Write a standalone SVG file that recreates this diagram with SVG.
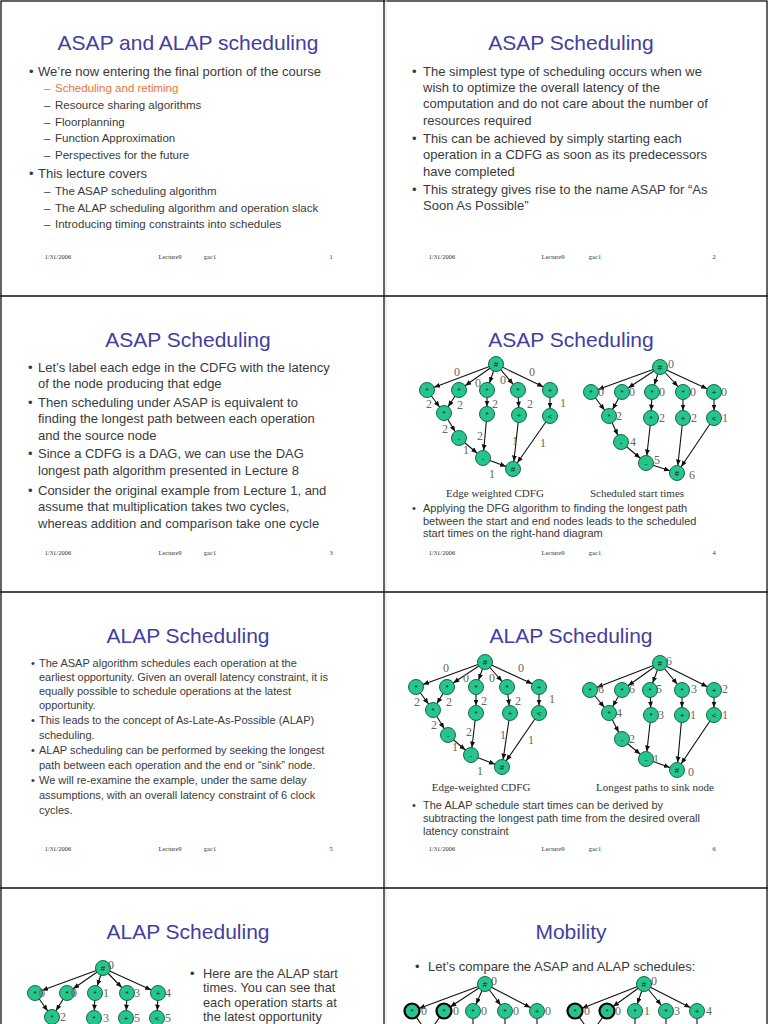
<svg xmlns="http://www.w3.org/2000/svg" width="768" height="1024" viewBox="0 0 768 1024">
<style>
.bg{fill:#fff}
.frame{stroke:#111;stroke-width:1.3;fill:none}
.t{font-family:"Liberation Sans",Arial,sans-serif;font-size:21px;fill:#42409E;text-anchor:middle}
.b{font-family:"Liberation Sans",Arial,sans-serif;font-size:13px;fill:#3a3a3a}
.s{font-family:"Liberation Sans",Arial,sans-serif;font-size:11.5px;fill:#3a3a3a}
.o{fill:#E8763C}
.m{font-family:"Liberation Sans",Arial,sans-serif;font-size:11px;fill:#3a3a3a}
.f{font-family:"Liberation Serif","Times New Roman",serif;font-size:6.5px;fill:#333;text-anchor:middle}
.cap{font-family:"Liberation Serif","Times New Roman",serif;font-size:11px;fill:#333;text-anchor:middle}
.lab{font-family:"Liberation Serif","Times New Roman",serif;font-size:12px;fill:#666;text-anchor:middle}
.n{fill:#27C48C;stroke:#0F6B48;stroke-width:1}
.hl{fill:#27C48C;stroke:#000;stroke-width:2.2}
.nt{font-family:"Liberation Sans",Arial,sans-serif;font-size:8px;fill:#1a1a1a;text-anchor:middle}
.e{stroke:#111;stroke-width:1.1;fill:none;marker-end:url(#ah)}
.e2{stroke:#111;stroke-width:1.1;fill:none}
.b7{font-family:"Liberation Sans",Arial,sans-serif;font-size:12.8px;fill:#3a3a3a}
</style>
<defs>
<marker id="ah" markerUnits="userSpaceOnUse" markerWidth="20" markerHeight="10" refX="13.5" refY="2.5" orient="auto">
<path d="M0,0 L6,2.5 L0,5 z" fill="#111"/>
</marker>
</defs>
<rect class="bg" x="0" y="0" width="768" height="1024"/>
<g id="frames">
<rect class="frame" x="1" y="1" width="766" height="1030"/>
<line class="frame" x1="384" y1="0" x2="384" y2="1024"/>
<line x1="386" y1="0" x2="386" y2="1024" stroke="#ddd" stroke-width="1"/>
<line class="frame" x1="0" y1="296" x2="768" y2="296"/>
<line class="frame" x1="0" y1="592" x2="768" y2="592"/>
<line class="frame" x1="0" y1="888" x2="768" y2="888"/>
</g>

<!-- Slide 1 -->
<g id="slide1">
<text class="t" x="188" y="50">ASAP and ALAP scheduling</text>
<text class="b" x="29" y="75.5">•</text><text class="b" x="38" y="75.5">We’re now entering the final portion of the course</text>
<text class="s o" x="44" y="92">–</text><text class="s o" x="55" y="92">Scheduling and retiming</text>
<text class="s" x="44" y="109">–</text><text class="s" x="55" y="109">Resource sharing algorithms</text>
<text class="s" x="44" y="125.5">–</text><text class="s" x="55" y="125.5">Floorplanning</text>
<text class="s" x="44" y="142">–</text><text class="s" x="55" y="142">Function Approximation</text>
<text class="s" x="44" y="159">–</text><text class="s" x="55" y="159">Perspectives for the future</text>
<text class="b" x="29" y="178">•</text><text class="b" x="38" y="178">This lecture covers</text>
<text class="s" x="44" y="194.5">–</text><text class="s" x="55" y="194.5">The ASAP scheduling algorithm</text>
<text class="s" x="44" y="211.5">–</text><text class="s" x="55" y="211.5">The ALAP scheduling algorithm and operation slack</text>
<text class="s" x="44" y="228">–</text><text class="s" x="55" y="228">Introducing timing constraints into schedules</text>
<text class="f" x="58" y="259">1/31/2006</text><text class="f" x="170" y="259">Lecture9</text><text class="f" x="210" y="259">gac1</text><text class="f" x="331" y="259">1</text>
</g>

<!-- Slide 2 -->
<g id="slide2">
<text class="t" x="571" y="50">ASAP Scheduling</text>
<text class="b" x="412" y="75.5">•</text><text class="b" x="423" y="75.5">The simplest type of scheduling occurs when we</text>
<text class="b" x="423" y="91.5">wish to optimize the overall latency of the</text>
<text class="b" x="423" y="107.5">computation and do not care about the number of</text>
<text class="b" x="423" y="124.5">resources required</text>
<text class="b" x="412" y="142.5">•</text><text class="b" x="423" y="142.5">This can be achieved by simply starting each</text>
<text class="b" x="423" y="158.5">operation in a CDFG as soon as its predecessors</text>
<text class="b" x="423" y="175.5">have completed</text>
<text class="b" x="412" y="193.5">•</text><text class="b" x="423" y="193.5">This strategy gives rise to the name ASAP for “As</text>
<text class="b" x="423" y="209.5">Soon As Possible”</text>
<text class="f" x="442" y="259">1/31/2006</text><text class="f" x="553" y="259">Lecture9</text><text class="f" x="595" y="259">gac1</text><text class="f" x="714" y="259">2</text>
</g>

<!-- Slide 3 -->
<g id="slide3">
<text class="t" x="188" y="347">ASAP Scheduling</text>
<text class="b" x="28" y="371.5">•</text><text class="b" x="38" y="371.5">Let’s label each edge in the CDFG with the latency</text>
<text class="b" x="38" y="387.5">of the node producing that edge</text>
<text class="b" x="28" y="406.5">•</text><text class="b" x="38" y="406.5">Then scheduling under ASAP is equivalent to</text>
<text class="b" x="38" y="422.5">finding the longest path between each operation</text>
<text class="b" x="38" y="439.5">and the source node</text>
<text class="b" x="28" y="457.5">•</text><text class="b" x="38" y="457.5">Since a CDFG is a DAG, we can use the DAG</text>
<text class="b" x="38" y="474.5">longest path algorithm presented in Lecture 8</text>
<text class="b" x="28" y="494.5">•</text><text class="b" x="38" y="494.5">Consider the original example from Lecture 1, and</text>
<text class="b" x="38" y="510.5">assume that multiplication takes two cycles,</text>
<text class="b" x="38" y="527.5">whereas addition and comparison take one cycle</text>
<text class="f" x="58" y="555">1/31/2006</text><text class="f" x="170" y="555">Lecture9</text><text class="f" x="210" y="555">gac1</text><text class="f" x="331" y="555">3</text>
</g>

<!-- Slide 4 -->
<g id="slide4">
<text class="t" x="571" y="347">ASAP Scheduling</text>
<text class="cap" x="495" y="497">Edge weighted CDFG</text>
<text class="cap" x="637" y="497">Scheduled start times</text>
<text class="m" x="412" y="512">•</text><text class="m" x="423" y="512">Applying the DFG algorithm to finding the longest path</text>
<text class="m" x="423" y="525">between the start and end nodes leads to the scheduled</text>
<text class="m" x="423" y="537">start times on the right-hand diagram</text>
<text class="f" x="442" y="555">1/31/2006</text><text class="f" x="553" y="555">Lecture9</text><text class="f" x="595" y="555">gac1</text><text class="f" x="714" y="555">4</text>
</g>

<!-- Slide 5 -->
<g id="slide5">
<text class="t" x="188" y="643">ALAP Scheduling</text>
<text class="m" x="31" y="667">•</text><text class="m" x="39" y="667">The ASAP algorithm schedules each operation at the</text>
<text class="m" x="39" y="681">earliest opportunity. Given an overall latency constraint, it is</text>
<text class="m" x="39" y="695">equally possible to schedule operations at the latest</text>
<text class="m" x="39" y="709">opportunity.</text>
<text class="m" x="31" y="724">•</text><text class="m" x="39" y="724">This leads to the concept of As-Late-As-Possible (ALAP)</text>
<text class="m" x="39" y="739">scheduling.</text>
<text class="m" x="31" y="754">•</text><text class="m" x="39" y="754">ALAP scheduling can be performed by seeking the longest</text>
<text class="m" x="39" y="769">path between each operation and the end or “sink” node.</text>
<text class="m" x="31" y="784">•</text><text class="m" x="39" y="784">We will re-examine the example, under the same delay</text>
<text class="m" x="39" y="799">assumptions, with an overall latency constraint of 6 clock</text>
<text class="m" x="39" y="814">cycles.</text>
<text class="f" x="58" y="851">1/31/2006</text><text class="f" x="170" y="851">Lecture9</text><text class="f" x="210" y="851">gac1</text><text class="f" x="331" y="851">5</text>
</g>

<!-- Slide 6 -->
<g id="slide6">
<text class="t" x="571" y="643">ALAP Scheduling</text>
<text class="cap" x="481" y="791">Edge-weighted CDFG</text>
<text class="cap" x="655" y="791">Longest paths to sink node</text>
<text class="m" x="412" y="809">•</text><text class="m" x="423" y="809">The ALAP schedule start times can be derived by</text>
<text class="m" x="423" y="822">subtracting the longest path time from the desired overall</text>
<text class="m" x="423" y="835">latency constraint</text>
<text class="f" x="442" y="851">1/31/2006</text><text class="f" x="553" y="851">Lecture9</text><text class="f" x="595" y="851">gac1</text><text class="f" x="714" y="851">6</text>
</g>

<!-- Slide 7 -->
<g id="slide7">
<text class="t" x="188" y="939">ALAP Scheduling</text>
<text class="b7" x="190" y="977.5">•</text>
<text class="b7" x="203" y="977.5">Here are the ALAP start</text>
<text class="b7" x="203" y="992">times. You can see that</text>
<text class="b7" x="203" y="1006.5">each operation starts at</text>
<text class="b7" x="203" y="1020.5">the latest opportunity</text>
</g>

<!-- Slide 8 -->
<g id="slide8">
<text class="t" x="571" y="939">Mobility</text>
<text class="b" x="415" y="970.5">•</text><text class="b" x="428" y="970.5">Let’s compare the ASAP and ALAP schedules:</text>
</g>

<!-- Connectors -->
<g id="connectors">
<!-- Graph A -->
<line class="e" x1="496" y1="364" x2="427" y2="390"/>
<line class="e" x1="496" y1="364" x2="459" y2="390"/>
<line class="e" x1="496" y1="364" x2="487" y2="390"/>
<line class="e" x1="496" y1="364" x2="518" y2="390"/>
<line class="e" x1="496" y1="364" x2="550" y2="390"/>
<line class="e" x1="427" y1="390" x2="444" y2="413"/>
<line class="e" x1="459" y1="390" x2="444" y2="413"/>
<line class="e" x1="444" y1="413" x2="459" y2="438"/>
<line class="e" x1="459" y1="438" x2="483" y2="458"/>
<line class="e" x1="487" y1="390" x2="487" y2="414"/>
<line class="e" x1="487" y1="414" x2="483" y2="458"/>
<line class="e" x1="518" y1="390" x2="519" y2="415"/>
<line class="e" x1="519" y1="415" x2="513" y2="469"/>
<line class="e" x1="550" y1="390" x2="550" y2="416"/>
<line class="e" x1="550" y1="416" x2="513" y2="469"/>
<line class="e" x1="483" y1="458" x2="513" y2="469"/>
<!-- Graph B -->
<line class="e" x1="660" y1="367" x2="591" y2="392"/>
<line class="e" x1="660" y1="367" x2="622" y2="392"/>
<line class="e" x1="660" y1="367" x2="652" y2="392"/>
<line class="e" x1="660" y1="367" x2="683" y2="392"/>
<line class="e" x1="660" y1="367" x2="714" y2="392"/>
<line class="e" x1="591" y1="392" x2="609" y2="416"/>
<line class="e" x1="622" y1="392" x2="609" y2="416"/>
<line class="e" x1="609" y1="416" x2="621" y2="442"/>
<line class="e" x1="621" y1="442" x2="646" y2="463"/>
<line class="e" x1="652" y1="392" x2="651" y2="418"/>
<line class="e" x1="651" y1="418" x2="646" y2="463"/>
<line class="e" x1="683" y1="392" x2="683" y2="418"/>
<line class="e" x1="683" y1="418" x2="677" y2="473"/>
<line class="e" x1="714" y1="392" x2="714" y2="418"/>
<line class="e" x1="714" y1="418" x2="677" y2="473"/>
<line class="e" x1="646" y1="463" x2="677" y2="473"/>
<!-- Graph C -->
<line class="e" x1="485" y1="662" x2="416" y2="687"/>
<line class="e" x1="485" y1="662" x2="447" y2="687"/>
<line class="e" x1="485" y1="662" x2="476" y2="687"/>
<line class="e" x1="485" y1="662" x2="507" y2="687"/>
<line class="e" x1="485" y1="662" x2="539" y2="687"/>
<line class="e" x1="416" y1="687" x2="433" y2="710"/>
<line class="e" x1="447" y1="687" x2="433" y2="710"/>
<line class="e" x1="433" y1="710" x2="448" y2="735"/>
<line class="e" x1="448" y1="735" x2="471" y2="755"/>
<line class="e" x1="476" y1="687" x2="476" y2="713"/>
<line class="e" x1="476" y1="713" x2="471" y2="755"/>
<line class="e" x1="507" y1="687" x2="510" y2="713"/>
<line class="e" x1="510" y1="713" x2="502" y2="767"/>
<line class="e" x1="539" y1="687" x2="539" y2="713"/>
<line class="e" x1="539" y1="713" x2="502" y2="767"/>
<line class="e" x1="471" y1="755" x2="502" y2="767"/>
<!-- Graph D -->
<line class="e" x1="660" y1="663" x2="590" y2="690"/>
<line class="e" x1="660" y1="663" x2="622" y2="690"/>
<line class="e" x1="660" y1="663" x2="650" y2="690"/>
<line class="e" x1="660" y1="663" x2="682" y2="690"/>
<line class="e" x1="660" y1="663" x2="714" y2="690"/>
<line class="e" x1="590" y1="690" x2="609" y2="713"/>
<line class="e" x1="622" y1="690" x2="609" y2="713"/>
<line class="e" x1="609" y1="713" x2="622" y2="739"/>
<line class="e" x1="622" y1="739" x2="646" y2="759"/>
<line class="e" x1="650" y1="690" x2="651" y2="715"/>
<line class="e" x1="651" y1="715" x2="646" y2="759"/>
<line class="e" x1="682" y1="690" x2="682" y2="715"/>
<line class="e" x1="682" y1="715" x2="677" y2="770"/>
<line class="e" x1="714" y1="690" x2="714" y2="715"/>
<line class="e" x1="714" y1="715" x2="677" y2="770"/>
<line class="e" x1="646" y1="759" x2="677" y2="770"/>
<!-- Graph E -->
<line class="e" x1="103" y1="968" x2="35" y2="993"/>
<line class="e" x1="103" y1="968" x2="67" y2="993"/>
<line class="e" x1="103" y1="968" x2="95" y2="993"/>
<line class="e" x1="103" y1="968" x2="127" y2="993"/>
<line class="e" x1="103" y1="968" x2="158" y2="993"/>
<line class="e" x1="35" y1="993" x2="52" y2="1017"/>
<line class="e" x1="67" y1="993" x2="52" y2="1017"/>
<line class="e" x1="95" y1="993" x2="94" y2="1018"/>
<line class="e" x1="127" y1="993" x2="126" y2="1018"/>
<line class="e" x1="158" y1="993" x2="157" y2="1018"/>
<!-- Graph F left -->
<line class="e" x1="485" y1="984" x2="412" y2="1011"/>
<line class="e" x1="485" y1="984" x2="444" y2="1011"/>
<line class="e" x1="485" y1="984" x2="473" y2="1011"/>
<line class="e" x1="485" y1="984" x2="505" y2="1011"/>
<line class="e" x1="485" y1="984" x2="537" y2="1011"/>
<line class="e2" x1="412" y1="1011" x2="428" y2="1034"/>
<line class="e2" x1="444" y1="1011" x2="428" y2="1034"/>
<line class="e2" x1="473" y1="1011" x2="473" y2="1030"/>
<line class="e2" x1="505" y1="1011" x2="505" y2="1030"/>
<line class="e2" x1="537" y1="1011" x2="537" y2="1030"/>
<!-- Graph F right -->
<line class="e" x1="644" y1="984" x2="575" y2="1011"/>
<line class="e" x1="644" y1="984" x2="607" y2="1011"/>
<line class="e" x1="644" y1="984" x2="635" y2="1011"/>
<line class="e" x1="644" y1="984" x2="666" y2="1011"/>
<line class="e" x1="644" y1="984" x2="697" y2="1011"/>
<line class="e2" x1="575" y1="1011" x2="591" y2="1034"/>
<line class="e2" x1="607" y1="1011" x2="591" y2="1034"/>
<line class="e2" x1="635" y1="1011" x2="635" y2="1030"/>
<line class="e2" x1="666" y1="1011" x2="666" y2="1030"/>
<line class="e2" x1="697" y1="1011" x2="697" y2="1030"/>
</g>

<!-- Edge labels -->
<g id="edge-labels">
<text class="lab" x="457" y="376">0</text><text class="lab" x="478" y="387">0</text><text class="lab" x="503" y="384">0</text><text class="lab" x="532" y="376">0</text>
<text class="lab" x="429" y="408">2</text><text class="lab" x="460" y="409">2</text><text class="lab" x="495" y="408">2</text><text class="lab" x="530" y="408">2</text><text class="lab" x="563" y="407">1</text>
<text class="lab" x="445" y="433">2</text><text class="lab" x="480" y="440">2</text><text class="lab" x="515" y="445">1</text><text class="lab" x="543" y="447">1</text>
<text class="lab" x="466" y="454">1</text><text class="lab" x="492" y="478">1</text>

<text class="lab" x="446" y="672">0</text><text class="lab" x="466" y="682">0</text><text class="lab" x="492" y="682">0</text><text class="lab" x="521" y="672">0</text>
<text class="lab" x="417" y="706">2</text><text class="lab" x="449" y="706">2</text><text class="lab" x="484" y="705">2</text><text class="lab" x="518" y="705">2</text><text class="lab" x="552" y="703">1</text>
<text class="lab" x="434" y="729">2</text><text class="lab" x="469" y="736">2</text><text class="lab" x="503" y="739">1</text><text class="lab" x="531" y="744">1</text>
<text class="lab" x="455" y="751">1</text><text class="lab" x="480" y="775">1</text>
</g>

<!-- Nodes: Graph A -->
<g id="gA-n0"><circle class="n" cx="496" cy="364" r="7.5"/><text class="nt" x="496" y="367">#</text></g>
<g id="gA-n1"><circle class="n" cx="427" cy="390" r="7.5"/><text class="nt" x="427" y="393">*</text></g>
<g id="gA-n2"><circle class="n" cx="459" cy="390" r="7.5"/><text class="nt" x="459" y="393">*</text></g>
<g id="gA-n3"><circle class="n" cx="487" cy="390" r="7.5"/><text class="nt" x="487" y="393">*</text></g>
<g id="gA-n4"><circle class="n" cx="518" cy="390" r="7.5"/><text class="nt" x="518" y="393">*</text></g>
<g id="gA-n5"><circle class="n" cx="550" cy="390" r="7.5"/><text class="nt" x="550" y="393">+</text></g>
<g id="gA-n6"><circle class="n" cx="444" cy="413" r="7.5"/><text class="nt" x="444" y="416">*</text></g>
<g id="gA-n7"><circle class="n" cx="487" cy="414" r="7.5"/><text class="nt" x="487" y="417">*</text></g>
<g id="gA-n8"><circle class="n" cx="519" cy="415" r="7.5"/><text class="nt" x="519" y="418">+</text></g>
<g id="gA-n9"><circle class="n" cx="550" cy="416" r="7.5"/><text class="nt" x="550" y="419">&lt;</text></g>
<g id="gA-n10"><circle class="n" cx="459" cy="438" r="7.5"/><text class="nt" x="459" y="441">-</text></g>
<g id="gA-n11"><circle class="n" cx="483" cy="458" r="7.5"/><text class="nt" x="483" y="461">-</text></g>
<g id="gA-n12"><circle class="n" cx="513" cy="469" r="7.5"/><text class="nt" x="513" y="472">#</text></g>

<!-- Nodes: Graph B -->
<g id="gB-n0"><circle class="n" cx="660" cy="367" r="7.5"/><text class="nt" x="660" y="370">#</text><text class="lab" x="671" y="368">0</text></g>
<g id="gB-n1"><circle class="n" cx="591" cy="392" r="7.5"/><text class="nt" x="591" y="395">*</text><text class="lab" x="601" y="396">0</text></g>
<g id="gB-n2"><circle class="n" cx="622" cy="392" r="7.5"/><text class="nt" x="622" y="395">*</text><text class="lab" x="632" y="396">0</text></g>
<g id="gB-n3"><circle class="n" cx="652" cy="392" r="7.5"/><text class="nt" x="652" y="395">*</text><text class="lab" x="662" y="396">0</text></g>
<g id="gB-n4"><circle class="n" cx="683" cy="392" r="7.5"/><text class="nt" x="683" y="395">*</text><text class="lab" x="693" y="396">0</text></g>
<g id="gB-n5"><circle class="n" cx="714" cy="392" r="7.5"/><text class="nt" x="714" y="395">+</text><text class="lab" x="724" y="396">0</text></g>
<g id="gB-n6"><circle class="n" cx="609" cy="416" r="7.5"/><text class="nt" x="609" y="419">*</text><text class="lab" x="619" y="420">2</text></g>
<g id="gB-n7"><circle class="n" cx="651" cy="418" r="7.5"/><text class="nt" x="651" y="421">*</text><text class="lab" x="662" y="422">2</text></g>
<g id="gB-n8"><circle class="n" cx="683" cy="418" r="7.5"/><text class="nt" x="683" y="421">+</text><text class="lab" x="694" y="422">2</text></g>
<g id="gB-n9"><circle class="n" cx="714" cy="418" r="7.5"/><text class="nt" x="714" y="421">&lt;</text><text class="lab" x="725" y="422">1</text></g>
<g id="gB-n10"><circle class="n" cx="621" cy="442" r="7.5"/><text class="nt" x="621" y="445">-</text><text class="lab" x="633" y="446">4</text></g>
<g id="gB-n11"><circle class="n" cx="646" cy="463" r="7.5"/><text class="nt" x="646" y="466">-</text><text class="lab" x="657" y="464">5</text></g>
<g id="gB-n12"><circle class="n" cx="677" cy="473" r="7.5"/><text class="nt" x="677" y="476">#</text><text class="lab" x="692" y="479">6</text></g>

<!-- Nodes: Graph C -->
<g id="gC-n0"><circle class="n" cx="485" cy="662" r="7.5"/><text class="nt" x="485" y="665">#</text></g>
<g id="gC-n1"><circle class="n" cx="416" cy="687" r="7.5"/><text class="nt" x="416" y="690">*</text></g>
<g id="gC-n2"><circle class="n" cx="447" cy="687" r="7.5"/><text class="nt" x="447" y="690">*</text></g>
<g id="gC-n3"><circle class="n" cx="476" cy="687" r="7.5"/><text class="nt" x="476" y="690">*</text></g>
<g id="gC-n4"><circle class="n" cx="507" cy="687" r="7.5"/><text class="nt" x="507" y="690">*</text></g>
<g id="gC-n5"><circle class="n" cx="539" cy="687" r="7.5"/><text class="nt" x="539" y="690">+</text></g>
<g id="gC-n6"><circle class="n" cx="433" cy="710" r="7.5"/><text class="nt" x="433" y="713">*</text></g>
<g id="gC-n7"><circle class="n" cx="476" cy="713" r="7.5"/><text class="nt" x="476" y="716">*</text></g>
<g id="gC-n8"><circle class="n" cx="510" cy="713" r="7.5"/><text class="nt" x="510" y="716">+</text></g>
<g id="gC-n9"><circle class="n" cx="539" cy="713" r="7.5"/><text class="nt" x="539" y="716">&lt;</text></g>
<g id="gC-n10"><circle class="n" cx="448" cy="735" r="7.5"/><text class="nt" x="448" y="738">-</text></g>
<g id="gC-n11"><circle class="n" cx="471" cy="755" r="7.5"/><text class="nt" x="471" y="758">-</text></g>
<g id="gC-n12"><circle class="n" cx="502" cy="767" r="7.5"/><text class="nt" x="502" y="770">#</text></g>

<!-- Nodes: Graph D -->
<g id="gD-n0"><circle class="n" cx="660" cy="663" r="7.5"/><text class="nt" x="660" y="666">#</text><text class="lab" x="669" y="665">6</text></g>
<g id="gD-n1"><circle class="n" cx="590" cy="690" r="7.5"/><text class="nt" x="590" y="693">*</text><text class="lab" x="601" y="693">6</text></g>
<g id="gD-n2"><circle class="n" cx="622" cy="690" r="7.5"/><text class="nt" x="622" y="693">*</text><text class="lab" x="632" y="693">6</text></g>
<g id="gD-n3"><circle class="n" cx="650" cy="690" r="7.5"/><text class="nt" x="650" y="693">*</text><text class="lab" x="659" y="693">5</text></g>
<g id="gD-n4"><circle class="n" cx="682" cy="690" r="7.5"/><text class="nt" x="682" y="693">*</text><text class="lab" x="694" y="693">3</text></g>
<g id="gD-n5"><circle class="n" cx="714" cy="690" r="7.5"/><text class="nt" x="714" y="693">+</text><text class="lab" x="725" y="693">2</text></g>
<g id="gD-n6"><circle class="n" cx="609" cy="713" r="7.5"/><text class="nt" x="609" y="716">*</text><text class="lab" x="619" y="717">4</text></g>
<g id="gD-n7"><circle class="n" cx="651" cy="715" r="7.5"/><text class="nt" x="651" y="718">*</text><text class="lab" x="661" y="719">3</text></g>
<g id="gD-n8"><circle class="n" cx="682" cy="715" r="7.5"/><text class="nt" x="682" y="718">+</text><text class="lab" x="693" y="719">1</text></g>
<g id="gD-n9"><circle class="n" cx="714" cy="715" r="7.5"/><text class="nt" x="714" y="718">&lt;</text><text class="lab" x="725" y="719">1</text></g>
<g id="gD-n10"><circle class="n" cx="622" cy="739" r="7.5"/><text class="nt" x="622" y="742">-</text><text class="lab" x="632" y="743">2</text></g>
<g id="gD-n11"><circle class="n" cx="646" cy="759" r="7.5"/><text class="nt" x="646" y="762">-</text><text class="lab" x="656" y="763">1</text></g>
<g id="gD-n12"><circle class="n" cx="677" cy="770" r="7.5"/><text class="nt" x="677" y="773">#</text><text class="lab" x="691" y="776">0</text></g>

<!-- Nodes: Graph E (slide 7) -->
<g id="gE-n0"><circle class="n" cx="103" cy="968" r="7.5"/><text class="nt" x="103" y="971">#</text><text class="lab" x="111" y="969">0</text></g>
<g id="gE-n1"><circle class="n" cx="35" cy="993" r="7.5"/><text class="nt" x="35" y="996">*</text><text class="lab" x="42" y="997">0</text></g>
<g id="gE-n2"><circle class="n" cx="67" cy="993" r="7.5"/><text class="nt" x="67" y="996">*</text><text class="lab" x="74" y="997">0</text></g>
<g id="gE-n3"><circle class="n" cx="95" cy="993" r="7.5"/><text class="nt" x="95" y="996">*</text><text class="lab" x="106" y="997">1</text></g>
<g id="gE-n4"><circle class="n" cx="127" cy="993" r="7.5"/><text class="nt" x="127" y="996">*</text><text class="lab" x="137" y="997">3</text></g>
<g id="gE-n5"><circle class="n" cx="158" cy="993" r="7.5"/><text class="nt" x="158" y="996">+</text><text class="lab" x="168" y="997">4</text></g>
<g id="gE-n6"><circle class="n" cx="52" cy="1017" r="7.5"/><text class="nt" x="52" y="1020">*</text><text class="lab" x="63" y="1021">2</text></g>
<g id="gE-n7"><circle class="n" cx="94" cy="1018" r="7.5"/><text class="nt" x="94" y="1021">*</text><text class="lab" x="106" y="1022">3</text></g>
<g id="gE-n8"><circle class="n" cx="126" cy="1018" r="7.5"/><text class="nt" x="126" y="1021">+</text><text class="lab" x="137" y="1022">5</text></g>
<g id="gE-n9"><circle class="n" cx="157" cy="1018" r="7.5"/><text class="nt" x="157" y="1021">&lt;</text><text class="lab" x="168" y="1022">5</text></g>

<!-- Nodes: Graph F left (ASAP) -->
<g id="gF-n0"><circle class="n" cx="485" cy="984" r="7.5"/><text class="nt" x="485" y="987">#</text><text class="lab" x="494" y="985">0</text></g>
<g id="gF-n1"><circle class="hl" cx="412" cy="1011" r="7.5"/><text class="nt" x="412" y="1014">*</text><text class="lab" x="424" y="1015">0</text></g>
<g id="gF-n2"><circle class="hl" cx="444" cy="1011" r="7.5"/><text class="nt" x="444" y="1014">*</text><text class="lab" x="456" y="1015">0</text></g>
<g id="gF-n3"><circle class="n" cx="473" cy="1011" r="7.5"/><text class="nt" x="473" y="1014">*</text><text class="lab" x="484" y="1015">0</text></g>
<g id="gF-n4"><circle class="n" cx="505" cy="1011" r="7.5"/><text class="nt" x="505" y="1014">*</text><text class="lab" x="516" y="1015">0</text></g>
<g id="gF-n5"><circle class="n" cx="537" cy="1011" r="7.5"/><text class="nt" x="537" y="1014">+</text><text class="lab" x="548" y="1015">0</text></g>

<!-- Nodes: Graph F right (ALAP) -->
<g id="gG-n0"><circle class="n" cx="644" cy="984" r="7.5"/><text class="nt" x="644" y="987">#</text><text class="lab" x="654" y="985">0</text></g>
<g id="gG-n1"><circle class="hl" cx="575" cy="1011" r="7.5"/><text class="nt" x="575" y="1014">*</text><text class="lab" x="587" y="1015">0</text></g>
<g id="gG-n2"><circle class="hl" cx="607" cy="1011" r="7.5"/><text class="nt" x="607" y="1014">*</text><text class="lab" x="618" y="1015">0</text></g>
<g id="gG-n3"><circle class="n" cx="635" cy="1011" r="7.5"/><text class="nt" x="635" y="1014">*</text><text class="lab" x="647" y="1015">1</text></g>
<g id="gG-n4"><circle class="n" cx="666" cy="1011" r="7.5"/><text class="nt" x="666" y="1014">*</text><text class="lab" x="677" y="1015">3</text></g>
<g id="gG-n5"><circle class="n" cx="697" cy="1011" r="7.5"/><text class="nt" x="697" y="1014">+</text><text class="lab" x="709" y="1015">4</text></g>
</svg>
